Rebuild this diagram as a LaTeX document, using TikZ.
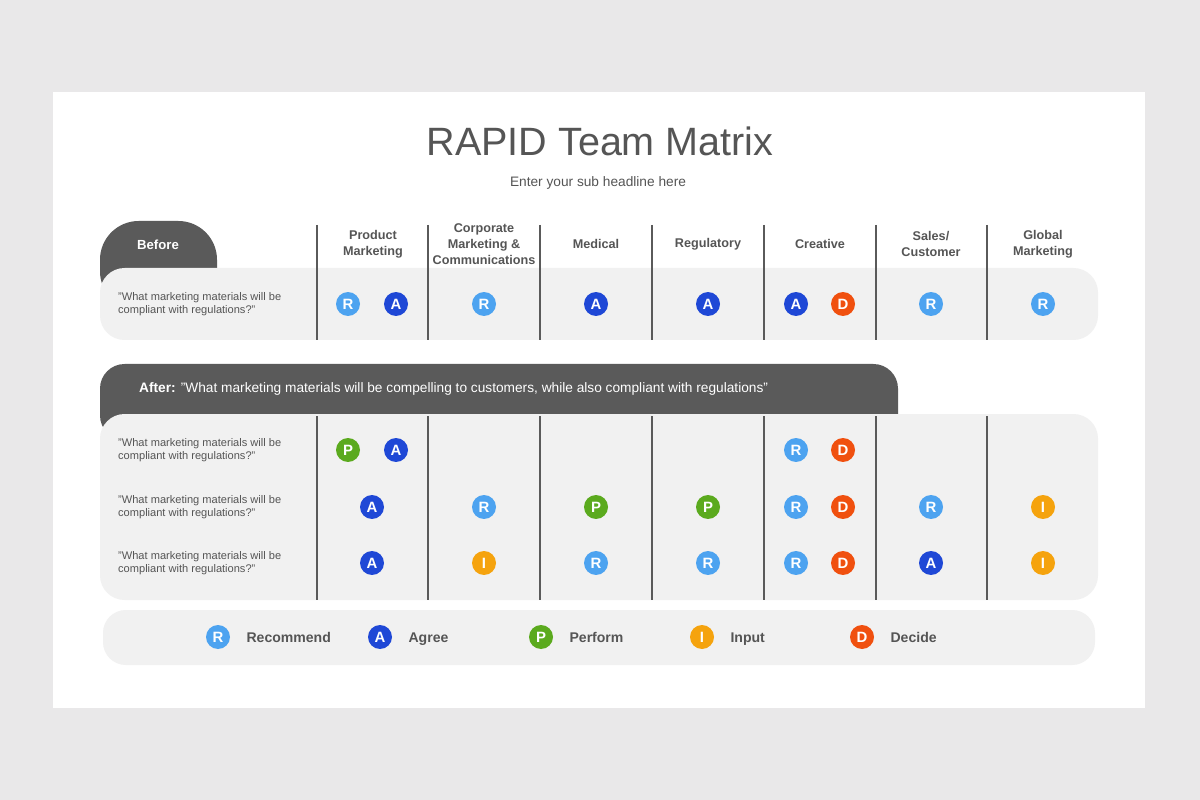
\documentclass[tikz,border=0pt]{standalone}
\usepackage{fontspec}
\setmainfont{Liberation Sans}
\usetikzlibrary{positioning}
\definecolor{pagebg}{HTML}{E9E8E9}
\definecolor{rowbg}{HTML}{F1F1F1}
\definecolor{tabbg}{HTML}{5A5A5A}
\definecolor{txt}{HTML}{555555}
\definecolor{cR}{HTML}{4DA3F0}
\definecolor{cA}{HTML}{1F48D6}
\definecolor{cP}{HTML}{5BAA1E}
\definecolor{cI}{HTML}{F5A30E}
\definecolor{cD}{HTML}{F0500F}
\tikzset{
  badge/.style={circle,fill=#1,text=white,minimum size=0.48cm,inner sep=0pt,font=\fontsize{8.5}{9}\selectfont\bfseries},
  head/.style={align=center,text=txt,font=\fontsize{7.2}{9}\selectfont\bfseries},
  question/.style={anchor=west,align=left,text=txt,font=\fontsize{6.3}{7.6}\selectfont},
  legend text/.style={anchor=west,text=txt,text height=1.6ex,text depth=0.4ex,font=\fontsize{8}{9}\selectfont\bfseries},
  divider/.style={draw=tabbg,line width=1.4pt}
}
\newcommand{\rapidq}{"What marketing materials will be\\compliant with regulations?"}
\begin{document}
\begin{tikzpicture}[x=0.02cm,y=-0.02cm]

  % page and card
  \fill[pagebg] (0,0) rectangle (1200,800);
  \fill[white] (53,92) rectangle (1145,708);

  \node[text=txt,font=\fontsize{22.5}{26}\selectfont] (title) at (600,141) {RAPID Team Matrix};
  \node[text=txt,font=\fontsize{7.8}{9}\selectfont] (sub) at (598,183) {Enter your sub headline here};

  % before block
  \fill[tabbg,rounded corners=22pt] (100,221) rectangle (217,310);
  \fill[rowbg,rounded corners=14pt] (100,268) rectangle (1098,340);
  \node[text=white,font=\fontsize{7.5}{9}\selectfont\bfseries] (before) at (158,245) {Before};
  \node[question] (q0) at (112,304) {\rapidq};

  % after block
  \fill[tabbg,rounded corners=14pt] (100,364) rectangle (898,440);
  \fill[rowbg,rounded corners=14pt] (100,414) rectangle (1098,600);
  \node[anchor=west,text=white,font=\fontsize{7.8}{9}\selectfont] (after) at (133,389)
    {\textbf{After:} "What marketing materials will be compelling to customers, while also compliant with regulations"};
  \node[question] (q1) at (112,450) {\rapidq};
  \node[question] (q2) at (112,507) {\rapidq};
  \node[question] (q3) at (112,563) {\rapidq};

  % column heads and dividers
  \foreach \x/\name [count=\i] in {373/{Product\\Marketing},484/{Corporate\\Marketing \&\\Communications},
      596/Medical,708/Regulatory,820/Creative,931/{Sales/\\Customer},1043/{Global\\Marketing}}
    \node[head] (h\i) at (\x,244) {\name};
  \foreach \x in {317,428,540,652,764,876,987} {
    \draw[divider] (\x,225) -- (\x,340);
    \draw[divider] (\x,416) -- (\x,600);
  }

  % before row
  \foreach \x/\l [count=\i] in {348/R,396/A,484/R,596/A,708/A,796/A,843/D,931/R,1043/R}
    \node[badge=c\l] (b0-\i) at (\x,304) {\l};

  % after rows
  \foreach \x/\l [count=\i] in {348/P,396/A,796/R,843/D}
    \node[badge=c\l] (b1-\i) at (\x,450) {\l};
  \foreach \x/\l [count=\i] in {372/A,484/R,596/P,708/P,796/R,843/D,931/R,1043/I}
    \node[badge=c\l] (b2-\i) at (\x,507) {\l};
  \foreach \x/\l [count=\i] in {372/A,484/I,596/R,708/R,796/R,843/D,931/A,1043/I}
    \node[badge=c\l] (b3-\i) at (\x,563) {\l};

  % legend
  \fill[rowbg,rounded corners=13pt] (103,610) rectangle (1095,665);
  \foreach \x/\l/\word in {218/R/Recommend,380/A/Agree,541/P/Perform,702/I/Input,862/D/Decide} {
    \node[badge=c\l] (k\l) at (\x,637) {\l};
    \node[legend text,right=0.2cm of k\l] (t\l) {\word};
  }
\end{tikzpicture}
\end{document}
